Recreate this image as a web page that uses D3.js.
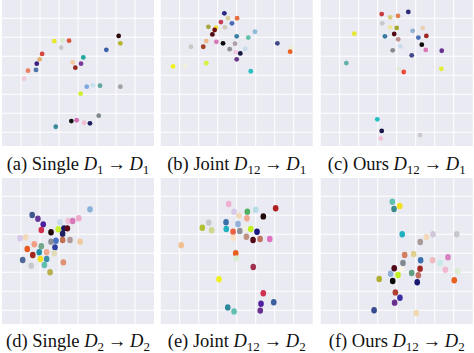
<!DOCTYPE html>
<html><head><meta charset="utf-8">
<script src="https://cdn.jsdelivr.net/npm/d3@7"></script>
<style>body{margin:0;background:#fff}svg{display:block}</style>
</head><body>
<svg id="c" width="474" height="353"></svg>
<script>
// ---- data (t-SNE style embedding coordinates) ----
const gridTicks = [-30,-20,-10,0,10,20,30];
const captions = [
  ["(a) Single ", "1", "1"],
  ["(b) Joint ", "12", "1"],
  ["(c) Ours ", "12", "1"],
  ["(d) Single ", "2", "2"],
  ["(e) Joint ", "12", "2"],
  ["(f) Ours ", "12", "2"]
];
const aX = [21.4,22.3,14.9,-12.5,-8.1,-4.7,-8.9,-18.9,-20.2,-21.7,-22.1,-26.3,-28.4,2.8,-2.8,1.6,-1.4,4.6,7.7,11.6,22.3,1.4,10.9,-3.5,-0.7,3.2,6.3,-11.7];
const aY = [20.7,16.8,13.4,18.0,18.4,18.2,14.5,11.2,8.4,6.1,2.8,2.4,-1.8,9.4,6.8,6.1,4.0,-6.0,-5.3,-5.5,-6.0,-9.7,-21.3,-24.1,-23.7,-25.0,-25.3,-27.1];
const aC = ["#2a0a0a","#b5b52a","#3a5fa8","#e8e82a","#d8ead0","#d9573a","#c8c8c8","#d6453d","#e0b070","#3d2080","#5070a8","#e88060","#f0c8d8","#20a8a0","#f4c8a0","#7a3a9a","#9a2a20","#80a8e0","#c8e0f0","#60a8a0","#a0a0a0","#d0f030","#808890","#101010","#d070b0","#f0c0d0","#202060","#3a8a9a"];
const bX = [-6.5,-4.6,0.2,-2.5,-14.9,-10.9,-11.6,-8.3,-6.2,-12.8,0.0,6.1,9.6,-16.0,-17.6,-24.1,-10.7,-7.2,-0.9,-3.7,-0.5,1.9,4.5,0.0,21.4,28.7,28.1,-33.5,-27.1,-16.0,7.4];
const bY = [32.6,30.0,30.0,27.3,25.5,25.0,23.8,28.0,25.2,21.5,20.5,19.8,22.9,18.0,15.0,15.0,17.6,16.8,16.6,13.7,12.2,11.5,14.0,8.4,16.8,14.5,12.4,4.7,4.7,6.3,2.1];
const bC = ["#2a2a80","#d8d0a0","#e87040","#4a6ab8","#a8a840","#f0e040","#701010","#c83a50","#d0c8b8","#500a14","#3a80a0","#60c0a8","#90b8d8","#f0b888","#a04020","#c8c8c8","#d878b8","#0a0a0a","#b0a0a8","#909098","#f0c8e0","#181848","#c8dcec","#6a3a8a","#404888","#e8ecd8","#f06020","#f0f020","#f0f0dc","#d8f040","#28c0c0"];
const cX = [-7.9,-3.4,0.7,6.1,-7.6,-3.5,0.0,8.4,13.7,-22.3,-6.2,-1.3,0.8,1.9,11.4,15.6,13.2,15.3,-2.1,7.9,23.7,-26.5,1.1,3.7,23.5,-10.2,-7.9,-8.4,12.3];
const cY = [32.2,30.5,31.2,33.3,27.3,25.2,24.9,23.4,24.9,21.9,20.5,21.7,18.9,15.2,19.8,20.7,16.1,13.3,13.1,10.5,12.9,6.4,3.1,1.7,3.4,-23.2,-29.3,-33.2,-31.5];
const cC = ["#c83a40","#d8d080","#e08050","#2a2a78","#c8c8cc","#f0e8a0","#a8a830","#90b0d0","#e8d0b0","#e8e830","#3a7aa0","#500a14","#c09090","#c8dcec","#4a70b8","#a02828","#0a0a0a","#d878b8","#888890","#404888","#6a3090","#60b0a8","#e0ecd8","#f04838","#e0f030","#20c0c0","#181848","#f0c0d8","#c8c8cc"];
const dX = [6.3,-24.1,-21.1,-18.3,-19.3,-9.5,-5.1,-2.8,0.4,-14.2,-10.4,-7.4,-5.6,-8.1,-30.5,-27.5,-14.2,-11.6,-8.1,-4.2,1.1,-23.0,-26.7,-19.3,-12.1,-20.4,-16.5,-12.5,-23.8,-29.1,-19.8,-16.5,-17.7,-24.6,-7.7,-14.7];
const dY = [23.1,20.1,18.2,15.2,12.2,16.3,17.0,17.0,18.4,11.0,12.6,13.1,13.1,10.3,7.9,8.4,6.1,6.6,7.0,7.0,6.1,4.7,2.2,3.7,3.1,0.5,0.5,0.0,-0.9,-3.6,-3.0,-3.0,-6.2,-6.6,-4.8,-10.0];
const dC = ["#88b0d8","#405890","#6a3a9a","#4a20a0","#d03050","#c8dcec","#f0c0d8","#d878b8","#f0a8c8","#200808","#c8f030","#181860","#600818","#202060","#d8c8e8","#f0d8b8","#909098","#4a70c0","#c07050","#b09898","#f0c8a0","#f0a080","#e85a20","#70a888","#3040a0","#2090a8","#f0a890","#e0dcb8","#a02820","#506898","#f0e020","#3a90a8","#60c0b0","#c8c8cc","#e09070","#b8b050"];
const eX = [-4.2,-1.4,5.6,10.0,20.5,14.0,1.2,5.4,-14.7,-5.6,0.7,-18.1,-13.2,-5.5,-1.9,1.6,4.7,7.4,10.7,5.1,8.6,12.3,17.4,-1.8,-29.2,-0.5,-0.2,8.7,-9.3,14.0,19.5,12.8,12.4,-4.7,-1.4];
const eY = [25.9,21.9,21.9,22.9,23.7,19.4,19.8,18.4,16.1,16.3,15.4,13.4,12.1,12.8,11.3,11.7,12.8,12.8,11.3,8.7,7.0,7.5,7.5,8.2,4.2,0.0,-2.7,-7.2,-13.7,-21.1,-25.8,-26.6,-30.2,-28.5,-30.6];
const eC = ["#f0b0d0","#d8c8e8","#50b060","#b8dce8","#b02020","#200808","#f0d8b8","#f0a890","#c8c8cc","#3a70a8","#90b0d8","#b0c030","#d0d890","#20b0c0","#e86040","#909098","#f0f0e0","#c0f020","#181880","#c09080","#500818","#c07060","#e070c0","#f8e0c0","#f0c090","#e86020","#d8ecd0","#a03050","#f0f020","#d03050","#3a60a0","#5020a0","#6a3090","#2a8898","#60c0b0"];
const fX = [-2.3,1.6,-1.4,2.9,15.6,19.1,31.6,12.4,4.2,8.9,12.6,18.9,22.8,27.0,3.3,25.6,32.1,-1.3,2.4,12.3,-3.2,0.7,7.9,11.4,-9.2,-2.1,10.8,30.3,-0.7,1.7,-1.1,-11.9,10.3];
const fY = [27.1,24.9,23.3,10.0,8.5,10.0,10.0,5.9,-0.9,-0.4,-3.7,-3.7,-5.1,-2.1,-5.1,-8.7,-9.5,-7.9,-8.3,-8.1,-10.8,-11.5,-10.4,-11.6,-13.6,-14.6,-15.3,-14.2,-20.6,-23.4,-26.0,-30.0,-31.5];
const fC = ["#60c0b0","#f0e020","#3a8a8a","#20b0c0","#f0d8b8","#d0c8d8","#c8c8cc","#a89898","#d08060","#e0d090","#3a70b0","#f0b8c0","#c8e8e8","#d880c0","#808890","#f0b8d0","#d8ecd0","#500818","#f8f4e8","#a02820","#90b0d8","#c0f020","#60a080","#c07060","#b0b030","#0a0a0a","#181870","#e86020","#b04030","#3a30a0","#6a3090","#3a4a90","#f0d8b0"];

const panelsData = [[aX,aY,aC],[bX,bY,bC],[cX,cY,cC],[dX,dY,dC],[eX,eY,eC],[fX,fY,fC]];

// ---- layout ----
const svg = d3.select("#c");
const colLeft = [2, 160.7, 320.7];
const rowTop = [0, 178];
const W = 152, H = 146;
const captionY = [170, 347];
const colCenter = colLeft.map(l => l + W/2);

panelsData.forEach((pd, i) => {
  const col = i % 3, row = Math.floor(i / 3);
  const x0 = colLeft[col], y0 = rowTop[row];
  const x = d3.scaleLinear().domain([-40, 40]).range([x0, x0 + W]);
  const y = d3.scaleLinear().domain([39.6, 39.6 - H/1.9]).range([y0, y0 + H]);
  const g = svg.append("g");
  g.append("rect").attr("x", x0).attr("y", y0).attr("width", W).attr("height", H).attr("fill", "#EAEAF2");
  g.selectAll("line.v").data(gridTicks).join("line").attr("class","v")
    .attr("x1", d => x(d)).attr("x2", d => x(d)).attr("y1", y0).attr("y2", y0 + H)
    .attr("stroke", "#fff").attr("stroke-width", 1);
  g.selectAll("line.h").data(gridTicks).join("line").attr("class","h")
    .attr("y1", d => y(d)).attr("y2", d => y(d)).attr("x1", x0).attr("x2", x0 + W)
    .attr("stroke", "#fff").attr("stroke-width", 1);
  const [xs, ys, cs] = pd;
  const r = row === 0 ? 2.4 : 2.8;
  g.selectAll("ellipse").data(xs.map((v, k) => k)).join("ellipse")
    .attr("cx", k => x(xs[k])).attr("cy", k => y(ys[k]))
    .attr("rx", r).attr("ry", row === 0 ? r : r * 1.15)
    .attr("fill", k => cs[k]);

  const cap = captions[i];
  const t = svg.append("text").attr("x", colCenter[col]).attr("y", captionY[row])
    .attr("text-anchor", "middle")
    .attr("font-family", "'Liberation Serif', 'Times New Roman', serif")
    .attr("font-size", 18.5).attr("fill", "#111");
  t.append("tspan").text(cap[0]);
  t.append("tspan").attr("font-style", "italic").text("D");
  t.append("tspan").attr("font-size", 13).attr("dy", 3.5).text(cap[1]);
  t.append("tspan").attr("dy", -3.5).text("\u2009\u2192\u2009");
  t.append("tspan").attr("font-style", "italic").text("D");
  t.append("tspan").attr("font-size", 13).attr("dy", 3.5).text(cap[2]);
});
</script>
</body></html>
